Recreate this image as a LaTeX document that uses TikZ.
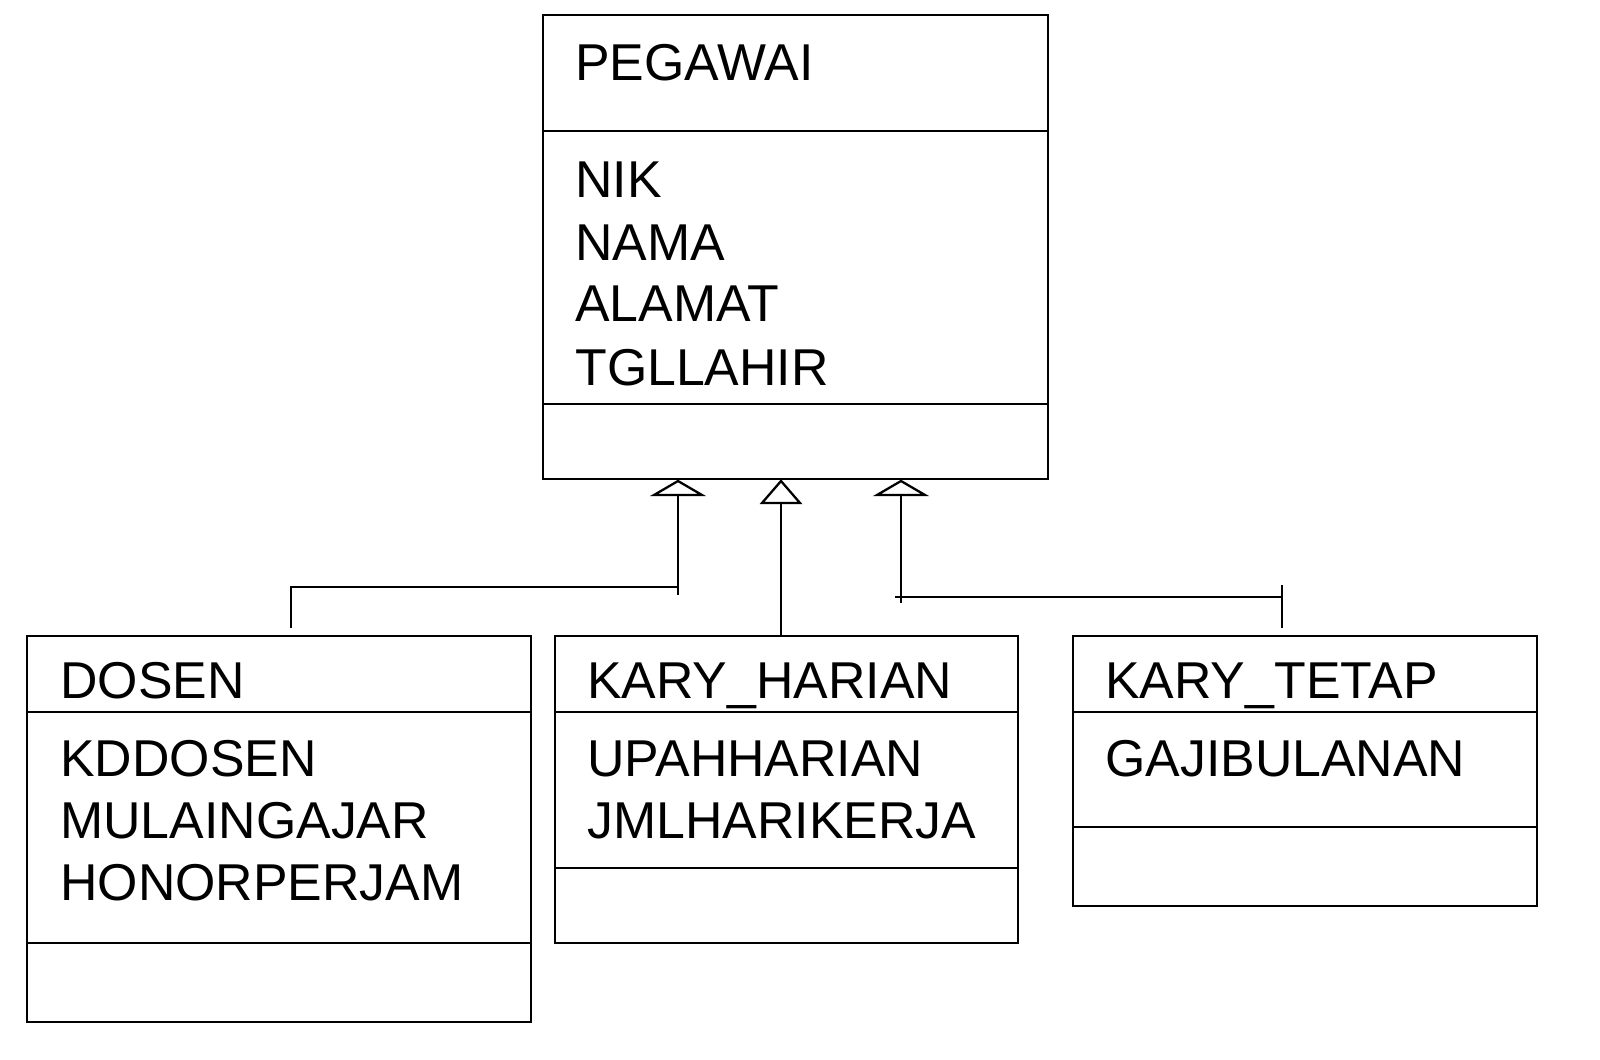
\documentclass[tikz,border=0pt]{standalone}
\usepackage{fontspec}
\setmainfont{Liberation Sans}
\begin{document}
\begin{tikzpicture}[x=0.02cm,y=-0.02cm,
  box/.style={draw,line width=1.3pt},
  lbl/.style={anchor=base west,inner sep=0pt,font=\fontsize{29.5}{35}\selectfont},
  ln/.style={line width=1.3pt},
  tri/.style={draw,fill=white,line width=1.3pt,line join=miter}]
\useasboundingbox (0,0) rectangle (1600,1059);
% PEGAWAI
\draw[box] (543,15) rectangle (1048,479);
\draw[ln] (543,131) -- (1048,131) (543,404) -- (1048,404);
\node[lbl] (peg) at (575,80) {PEGAWAI};
\node[lbl] (a1) at (575,197) {NIK};
\node[lbl] (a2) at (575,260) {NAMA};
\node[lbl] (a3) at (575,321) {ALAMAT};
\node[lbl] (a4) at (575,385) {TGLLAHIR};
% DOSEN
\draw[box] (27,636) rectangle (531,1022);
\draw[ln] (27,712) -- (531,712) (27,943) -- (531,943);
\node[lbl] (dos) at (60,698) {DOSEN};
\node[lbl] (d1) at (60,776) {KDDOSEN};
\node[lbl] (d2) at (60,838) {MULAINGAJAR};
\node[lbl] (d3) at (60,900) {HONORPERJAM};
% KARY_HARIAN
\draw[box] (555,636) rectangle (1018,943);
\draw[ln] (555,712) -- (1018,712) (555,868) -- (1018,868);
\node[lbl] (kh) at (587,698) {KARY\_HARIAN};
\node[lbl] (h1) at (587,776) {UPAHHARIAN};
\node[lbl] (h2) at (587,838) {JMLHARIKERJA};
% KARY_TETAP
\draw[box] (1073,636) rectangle (1537,906);
\draw[ln] (1073,712) -- (1537,712) (1073,827) -- (1537,827);
\node[lbl] (kt) at (1105,698) {KARY\_TETAP};
\node[lbl] (t1) at (1105,776) {GAJIBULANAN};
% connectors
\coordinate (lb) at (678,495);
\coordinate (mb) at (781,503);
\coordinate (rb) at (901,495);
\draw[ln] (lb) -- (678,595) (678,587) -- (291,587) -- (291,628);
\draw[ln] (mb) -- (781,636);
\draw[ln] (rb) -- (901,603) (895,597) -- (1282,597) (1282,585) -- (1282,628);
\draw[tri] (678,481) -- (702,495) -- (654,495) -- cycle;
\draw[tri] (781,481) -- (800,503) -- (762,503) -- cycle;
\draw[tri] (901,481) -- (925,495) -- (877,495) -- cycle;
\end{tikzpicture}
\end{document}
